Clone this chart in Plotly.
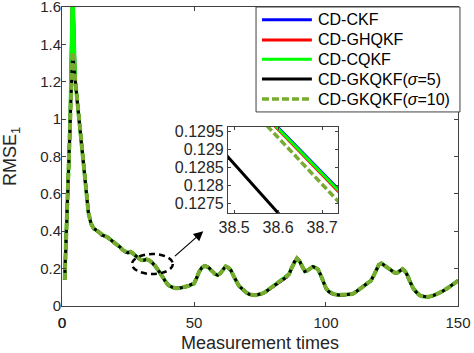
import plotly.graph_objects as go

# ---------------- data ----------------
t = list(range(1, 151))

# shared (visually identical) part of all curves after the first peak, t = 5..150
tail = [1.21, 1.06, 0.91, 0.77, 0.63, 0.50, 0.44, 0.415, 0.405, 0.395,
        0.38, 0.375, 0.37, 0.36, 0.345, 0.335, 0.325, 0.315, 0.30, 0.29,
        0.285, 0.29, 0.28, 0.265, 0.255, 0.246, 0.245, 0.25, 0.245, 0.235,
        0.22, 0.20, 0.18, 0.155, 0.135, 0.115, 0.105, 0.098, 0.095, 0.095,
        0.097, 0.10, 0.103, 0.108, 0.115, 0.12, 0.15, 0.185, 0.205, 0.214,
        0.21, 0.20, 0.185, 0.17, 0.165, 0.175, 0.195, 0.212, 0.205, 0.19,
        0.16, 0.13, 0.108, 0.095, 0.08, 0.07, 0.062, 0.059, 0.058, 0.06,
        0.063, 0.067, 0.075, 0.085, 0.095, 0.105, 0.115, 0.125, 0.135, 0.145,
        0.155, 0.17, 0.205, 0.235, 0.255, 0.24, 0.21, 0.185, 0.19, 0.20,
        0.21, 0.205, 0.195, 0.165, 0.13, 0.095, 0.078, 0.068, 0.063, 0.06,
        0.059, 0.059, 0.06, 0.061, 0.062, 0.064, 0.072, 0.082, 0.093, 0.103,
        0.113, 0.125, 0.135, 0.16, 0.195, 0.22, 0.228, 0.218, 0.205, 0.197,
        0.188, 0.178, 0.178, 0.19, 0.198, 0.185, 0.16, 0.125, 0.095, 0.078,
        0.062, 0.053, 0.05, 0.049, 0.05, 0.052, 0.058, 0.063, 0.07, 0.078,
        0.085, 0.095, 0.105, 0.115, 0.125, 0.135]

# first four steps (t = 1..4) per filter
head_ckf = [0.14, 0.54, 0.94, 1.74]
head_ghqkf = [0.14, 0.54, 0.94, 1.73]
head_cqkf = [0.14, 0.54, 0.94, 1.75]
head_gkqkf5 = [0.14, 0.54, 0.94, 1.35]
head_gkqkf10 = [0.14, 0.54, 0.94, 1.36]

ckf = head_ckf + tail
ghqkf = head_ghqkf + tail
cqkf = head_cqkf + tail
gkqkf5 = head_gkqkf5 + tail
gkqkf10 = head_gkqkf10 + tail

# zoomed inset (t between 38.45 and 38.75)
inset_t = [38.45, 38.75]
inset_ckf = [0.13154, 0.12774]
inset_ghqkf = [0.13146, 0.12764]
inset_cqkf = [0.13150, 0.12769]
inset_gkqkf5 = [0.12929, 0.12515]
inset_gkqkf10 = [0.13131, 0.12737]

names = ["CD-CKF", "CD-GHQKF", "CD-CQKF",
         "CD-GKQKF(<i>σ</i>=5)", "CD-GKQKF(<i>σ</i>=10)"]
colors = ["#0000FF", "#FF0000", "#00FF00", "#000000", "#77AC30"]

x_ticks = [0, 50, 100, 150]
x_tick_text = ["0", "50", "100", "150"]
y_ticks = [0, 0.2, 0.4, 0.6, 0.8, 1.0, 1.2, 1.4, 1.6]
y_tick_text = ["0", "0.2", "0.4", "0.6", "0.8", "1", "1.2", "1.4", "1.6"]
inset_x_ticks = [38.5, 38.6, 38.7]
inset_x_text = ["38.5", "38.6", "38.7"]
inset_y_ticks = [0.1275, 0.128, 0.1285, 0.129, 0.1295]
inset_y_text = ["0.1275", "0.128", "0.1285", "0.129", "0.1295"]

# ---------------- figure ----------------
FONT = "Arial, Liberation Sans, sans-serif"
TXT = "#262626"
AX = "#404040"

main_series = [ckf, ghqkf, cqkf, gkqkf5, gkqkf10]
inset_series = [inset_ckf, inset_ghqkf, inset_cqkf, inset_gkqkf5, inset_gkqkf10]
main_widths = [3, 3, 3.5, 3, 4]
inset_widths = [2, 2, 3, 3, 3.5]
legend_widths = [3, 3, 3, 3, 3.5]
dashes = ["solid", "solid", "solid", "solid", "7px,3px"]

fig = go.Figure()
for s, n, c, w, d in zip(main_series, names, colors, main_widths, dashes):
    fig.add_trace(go.Scatter(x=t, y=s, mode="lines", name=n, showlegend=False,
                             line=dict(color=c, width=w, dash=d),
                             xaxis="x", yaxis="y"))
for s, c, w, d in zip(inset_series, colors, inset_widths, dashes):
    fig.add_trace(go.Scatter(x=inset_t, y=s, mode="lines", showlegend=False,
                             line=dict(color=c, width=w, dash=d),
                             xaxis="x2", yaxis="y2"))

axis_common = dict(showline=True, linecolor=AX, linewidth=1, mirror="allticks",
                   ticks="inside", tickcolor=AX, ticklen=4, showgrid=False,
                   zeroline=False, automargin=False, ticklabeloverflow="allow")

fig.update_layout(
    width=474, height=353,
    margin=dict(l=62, r=16, t=7, b=47),
    paper_bgcolor="white", plot_bgcolor="white",
    font=dict(family=FONT, color=TXT),
    showlegend=False,
    xaxis=dict(range=[-0.01, 150.01], tickvals=x_ticks, ticktext=x_tick_text, domain=[0, 1],
               tickfont=dict(family=FONT, size=15, color=TXT), ticklabelstandoff=3,
               title=dict(text="Measurement times", font=dict(size=18, family=FONT, color=TXT),
                          standoff=9),
               **axis_common),
    yaxis=dict(range=[-0.0001, 1.6001], tickvals=y_ticks, ticktext=y_tick_text, domain=[0, 1],
               tickfont=dict(family=FONT, size=15, color=TXT), ticklabelstandoff=-3,
               title=dict(text="RMSE<sub>1</sub>", font=dict(size=18, family=FONT, color=TXT),
                          standoff=20),
               **axis_common),
    xaxis2=dict(range=[38.486, 38.736], tickvals=inset_x_ticks, ticktext=inset_x_text,
                domain=[0.419, 0.697], anchor="y2",
                tickfont=dict(family=FONT, size=16, color=TXT),
                **{**axis_common, "ticklen": 3}),
    yaxis2=dict(range=[0.12722, 0.12964], tickvals=inset_y_ticks, ticktext=inset_y_text,
                domain=[0.311, 0.599], anchor="x2",
                tickfont=dict(family=FONT, size=16, color=TXT),
                **{**axis_common, "ticklen": 3}),
)

# plotly suppresses the x "0" label at the axis corner; draw it as text
fig.add_annotation(x=x_ticks[0], y=0, xref="x", yref="paper", text=x_tick_text[0],
                   showarrow=False, xanchor="center", yanchor="top", yshift=-6,
                   font=dict(family=FONT, size=15, color=TXT))

# legend box (drawn manually to match the reference geometry)
leg_x0, leg_x1, leg_y0, leg_y1 = 0.490, 1.005, 0.649, 1.0
fig.add_shape(type="rect", xref="paper", yref="paper",
              x0=leg_x0, x1=leg_x1, y0=leg_y0, y1=leg_y1,
              line=dict(color=AX, width=1), fillcolor="white", layer="above")
leg_rows = [0.957, 0.890, 0.825, 0.759, 0.692]
for yy, n, c, w, d in zip(leg_rows, names, colors, legend_widths, dashes):
    fig.add_shape(type="line", xref="paper", yref="paper",
                  x0=0.505, x1=0.631, y0=yy, y1=yy,
                  line=dict(color=c, width=w, dash=d), layer="above")
    fig.add_annotation(x=0.642, y=yy, xref="paper", yref="paper", text=n,
                       showarrow=False, xanchor="left", yanchor="middle",
                       font=dict(family=FONT, size=16, color="black"))

# dashed ellipse marking the zoomed region
fig.add_shape(type="circle", xref="x", yref="y", x0=26.5, x1=42, y0=0.171, y1=0.278,
              line=dict(color="black", width=2.5, dash="6px,4px"))

# arrow pointing to the inset
fig.add_annotation(x=53.5, y=0.4, ax=42.2, ay=0.26, xref="x", yref="y",
                   axref="x", ayref="y", text="", showarrow=True,
                   arrowhead=2, arrowsize=1.6, arrowwidth=1.2, arrowcolor="black")

fig.write_html("out.html")
